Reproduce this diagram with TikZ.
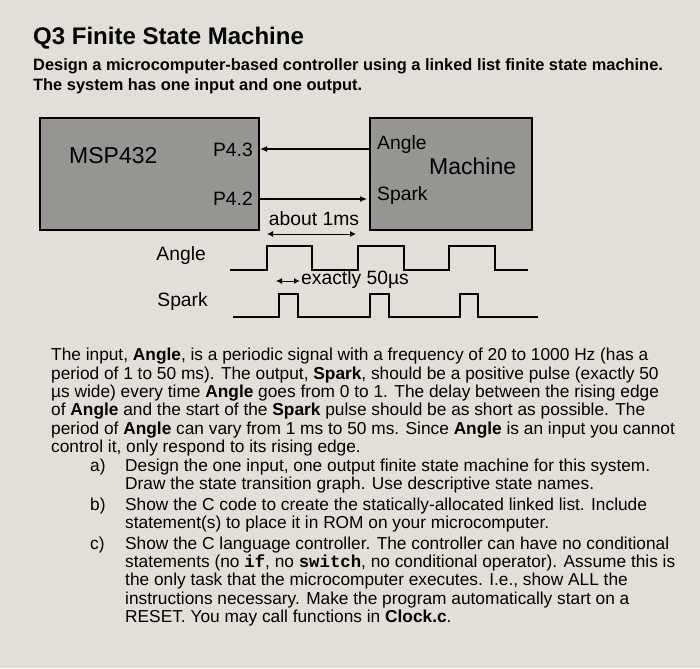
\documentclass[tikz,border=0pt]{standalone}
\usepackage{fontspec}
\setmainfont{Liberation Sans}
\setmonofont{Liberation Mono}
\usetikzlibrary{arrows.meta}
\begin{document}
\begin{tikzpicture}[x=1pt,y=-1pt,
  txt/.style={anchor=west,inner sep=0pt,font=\fontsize{17.3}{18}\selectfont},
  dlab/.style={inner sep=0pt,font=\fontsize{19.3}{20}\selectfont},
  box/.style={draw=black,line width=1.2pt,fill=boxgray},
  wire/.style={line width=1.1pt,-{Latex[length=7pt,width=6pt]}},
  dbl/.style={line width=1pt,{Latex[length=6pt,width=6pt]}-{Latex[length=6pt,width=6pt]}},
  wave/.style={line width=1.2pt}]
\definecolor{paper}{RGB}{226,223,216}
\definecolor{boxgray}{RGB}{150,149,145}
\fill[paper] (0,0) rectangle (700,668);
\useasboundingbox (0,0) rectangle (700,668);
% title
\node[anchor=west,inner sep=0pt,font=\bfseries\fontsize{24}{26}\selectfont] (title) at (33,38) {Q3 Finite State Machine};
\node[anchor=west,inner sep=0pt,font=\bfseries\fontsize{16.4}{18}\selectfont] (sub1) at (33,66) {Design a microcomputer-based controller using a linked list finite state machine.};
\node[anchor=west,inner sep=0pt,font=\bfseries\fontsize{16.4}{18}\selectfont] (sub2) at (33,86) {The system has one input and one output.};
% boxes
\draw[box] (40,118) rectangle (259,230);
\draw[box] (370,118) rectangle (532,230);
\node[dlab,anchor=west,font=\fontsize{23}{24}\selectfont] (msp) at (69,156) {MSP432};
\node[dlab,anchor=east] (p43) at (253,150) {P4.3};
\node[dlab,anchor=east] (p42) at (253,199) {P4.2};
\node[dlab,anchor=west] (mang) at (377,145) {Angle};
\node[dlab,anchor=west] (msp2) at (377,196) {Spark};
\node[dlab,anchor=west,font=\fontsize{23}{24}\selectfont] (mach) at (429,166) {Machine};
\coordinate (a1) at (370,149); \coordinate (a2) at (260,149);
\coordinate (b1) at (259,199); \coordinate (b2) at (367,199);
\draw[wire] (a1) -- (a2);
\draw[wire] (b1) -- (b2);
\node[dlab] (about) at (314,219) {about 1ms};
\coordinate (c1) at (267,234); \coordinate (c2) at (356,234);
\draw[dbl] (c1) -- (c2);
% waves
\node[dlab,anchor=east] (angl) at (206,256) {Angle};
\node[dlab,anchor=east] (spkl) at (208,302) {Spark};
\draw[wave] (230,270) -- (267,270) -- (267,246) -- (312,246) -- (312,270) -- (358,270) -- (358,246) -- (404,246) -- (404,270) -- (449,270) -- (449,246) -- (495,246) -- (495,270) -- (528,270);
\draw[wave] (233,317) -- (279,317) -- (279,294) -- (298,294) -- (298,317) -- (370,317) -- (370,294) -- (389,294) -- (389,317) -- (460,317) -- (460,294) -- (478,294) -- (478,317) -- (538,317);
\coordinate (e1) at (276,281); \coordinate (e2) at (300,281);
\draw[dbl] (e1) -- (e2);
\node[dlab,anchor=west] (exact) at (301,280) {exactly 50\textmu s};
% body
\node[txt] (l1) at (51,356) {The input, \textbf{Angle}, is a periodic signal with a frequency of 20 to 1000 Hz (has a};
\node[txt] (l2) at (51,375) {period of 1 to 50 ms). The output, \textbf{Spark}, should be a positive pulse (exactly 50};
\node[txt] (l3) at (51,393) {\textmu s wide) every time \textbf{Angle} goes from 0 to 1. The delay between the rising edge};
\node[txt] (l4) at (51,411) {of \textbf{Angle} and the start of the \textbf{Spark} pulse should be as short as possible. The};
\node[txt] (l5) at (51,430) {period of \textbf{Angle} can vary from 1 ms to 50 ms. Since \textbf{Angle} is an input you cannot};
\node[txt] (l6) at (51,448) {control it, only respond to its rising edge.};
\node[txt] (la) at (90,467) {a)};
\node[txt] (la1) at (125,467) {Design the one input, one output finite state machine for this system.};
\node[txt] (la2) at (125,485) {Draw the state transition graph. Use descriptive state names.};
\node[txt] (lb) at (90,506) {b)};
\node[txt] (lb1) at (125,506) {Show the C code to create the statically-allocated linked list. Include};
\node[txt] (lb2) at (125,524) {statement(s) to place it in ROM on your microcomputer.};
\node[txt] (lc) at (90,545) {c)};
\node[txt] (lc1) at (125,545) {Show the C language controller. The controller can have no conditional};
\node[txt] (lc2) at (125,563) {statements (no \texttt{\textbf{if}}, no \texttt{\textbf{switch}}, no conditional operator). Assume this is};
\node[txt] (lc3) at (125,581) {the only task that the microcomputer executes. I.e., show ALL the};
\node[txt] (lc4) at (125,600) {instructions necessary. Make the program automatically start on a};
\node[txt] (lc5) at (125,618) {RESET. You may call functions in \textbf{Clock.c}.};
\end{tikzpicture}
\end{document}
